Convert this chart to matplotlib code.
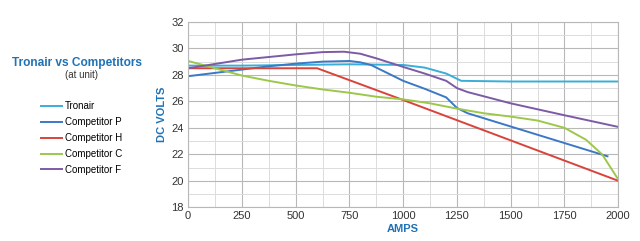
import matplotlib
matplotlib.use("Agg")
import matplotlib.pyplot as plt
from matplotlib.ticker import MultipleLocator

plt.rcParams['font.family'] = ['Liberation Sans', 'DejaVu Sans']

# amps / dc volts
tronair_x = [0, 250, 500, 750, 1000, 1100, 1200, 1270, 1500, 1750, 2000]
tronair_y = [28.7, 28.7, 28.75, 28.8, 28.75, 28.55, 28.1, 27.55, 27.5, 27.5, 27.5]

comp_p_x = [0, 125, 250, 375, 500, 625, 750, 800, 850, 900, 1000, 1100, 1200, 1250, 1300, 1500, 1750, 1950]
comp_p_y = [27.9, 28.15, 28.4, 28.65, 28.85, 29.0, 29.05, 28.95, 28.75, 28.35, 27.55, 26.95, 26.3, 25.5, 25.1, 24.1, 22.85, 21.85]

comp_h_x = [0, 300, 600, 1000, 1500, 2000]
comp_h_y = [28.5, 28.5, 28.5, 26.1, 23.05, 20.0]

comp_c_x = [0, 125, 250, 375, 500, 625, 750, 875, 1000, 1125, 1250, 1375, 1500, 1625, 1750, 1850, 1925, 2000]
comp_c_y = [29.05, 28.5, 27.95, 27.55, 27.2, 26.9, 26.65, 26.35, 26.15, 25.85, 25.45, 25.1, 24.85, 24.55, 24.0, 23.1, 22.0, 20.1]

comp_f_x = [0, 250, 500, 625, 725, 800, 875, 1000, 1100, 1200, 1250, 1300, 1500, 1750, 2000]
comp_f_y = [28.5, 29.15, 29.55, 29.72, 29.75, 29.6, 29.25, 28.6, 28.1, 27.55, 27.0, 26.7, 25.85, 24.95, 24.07]

names = ['Tronair', 'Competitor P', 'Competitor H', 'Competitor C', 'Competitor F']
colors = ['#3aaed8', '#3b78c6', '#d8433b', '#9cc84a', '#7c5ba6']

fig = plt.figure(figsize=(6.4, 2.41), dpi=100)
ax = fig.add_axes([0.294, 0.14, 0.672, 0.769])

series = [(tronair_x, tronair_y), (comp_p_x, comp_p_y), (comp_h_x, comp_h_y),
          (comp_c_x, comp_c_y), (comp_f_x, comp_f_y)]
for (xs, ys), n, c in zip(series, names, colors):
    ax.plot(xs, ys, color=c, lw=1.4, label=n)

ax.set_xlim(0, 2000)
ax.set_ylim(18, 32)
ax.xaxis.set_major_locator(MultipleLocator(250))
ax.xaxis.set_minor_locator(MultipleLocator(125))
ax.yaxis.set_major_locator(MultipleLocator(2))
ax.yaxis.set_minor_locator(MultipleLocator(1))
ax.grid(which='major', color='#b8b8b8', lw=0.8)
ax.grid(which='minor', color='#dcdcdc', lw=0.7)
ax.set_axisbelow(True)
for s in ['top', 'right', 'bottom', 'left']:
    ax.spines[s].set_color('#b8b8b8')
    ax.spines[s].set_linewidth(0.8)
ax.tick_params(which='both', length=0, labelsize=8, colors='#333333', pad=3)

ax.set_xlabel('AMPS', color='#1f72b5', fontweight='bold', fontsize=8, labelpad=2)
ax.set_ylabel('DC VOLTS', color='#1f72b5', fontweight='bold', fontsize=8, labelpad=3)

fig.text(0.121, 0.738, 'Tronair vs Competitors', color='#1f72b5', fontweight='bold',
         fontsize=8.6, ha='center', va='center')
fig.text(0.128, 0.688, '(at unit)', color='#333333', fontsize=7, ha='center', va='center')

fig.legend(loc='upper left', bbox_to_anchor=(0.058, 0.595), frameon=False, fontsize=7,
           handlelength=2.2, handletextpad=0.25, labelspacing=0.6, borderaxespad=0)

fig.savefig('out.png', dpi=100)
